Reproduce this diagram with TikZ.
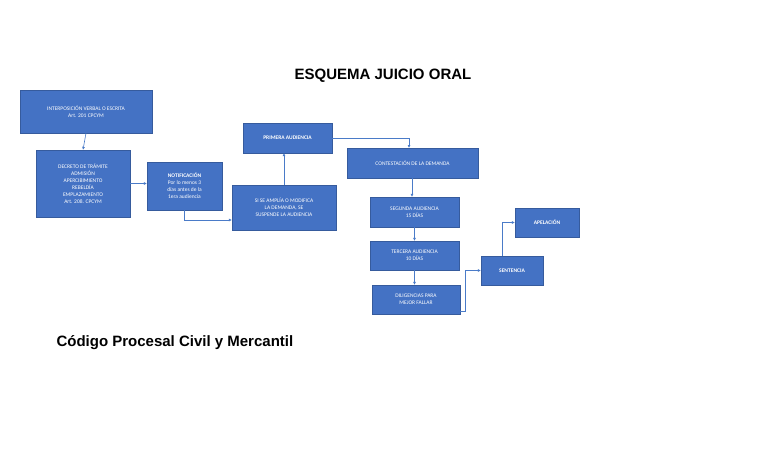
\documentclass[tikz,border=0pt]{standalone}
\usepackage{fontspec}
\setmainfont{Carlito}
\newfontfamily\arialf{Liberation Sans}
\usetikzlibrary{arrows.meta,shadows}
\definecolor{bx}{HTML}{4472C4}
\definecolor{ln}{HTML}{4A7BC8}
\tikzset{
 bbox/.style={fill=bx,draw=bx!80!black,line width=0.3pt,text=white,font=\fontsize{5.5}{7}\selectfont,align=center,inner sep=1pt,drop shadow={shadow xshift=1pt,shadow yshift=-1pt,opacity=0.35}},
 conn/.style={draw=ln,line width=0.6pt,-{Latex[length=3pt,width=3pt]}}
}
\newcommand{\bnode}[6]{\node[bbox,minimum width=#4pt-#2pt,minimum height=#5pt-#3pt] (#1) at ({(#2+#4)/2*1pt},{-(#3+#5)/2*1pt}) {#6};}
\begin{document}
\begin{tikzpicture}[x=1pt,y=1pt]
\useasboundingbox[fill=white] (0,0) rectangle (768,-466);
\node[font=\arialf\bfseries\fontsize{15}{17}\selectfont] (title) at (383,-76) {ESQUEMA JUICIO ORAL};
\node[font=\arialf\bfseries\fontsize{15}{17}\selectfont,anchor=west] (cod) at (53,-343) {Código Procesal Civil y Mercantil};
\bnode{interp}{20}{90}{152}{133}{INTERPOSICIÓN VERBAL O ESCRITA\\Art. 201 CPCYM}
\bnode{decreto}{36}{150}{130}{217}{DECRETO DE TRÁMITE\\ADMISIÓN\\APERCIBIMIENTO\\REBELDÍA\\EMPLAZAMIENTO\\Art. 208. CPCYM}
\bnode{notif}{147}{162}{222}{210}{\textbf{NOTIFICACIÓN}\\Por lo menos 3\\días antes de la\\1era audiencia}
\bnode{sise}{232}{185}{336}{230}{SI SE AMPLÍA O MODIFICA\\LA DEMANDA, SE\\SUSPENDE LA AUDIENCIA}
\bnode{primera}{243}{123}{332}{153}{\textbf{PRIMERA AUDIENCIA}}
\bnode{contest}{347}{148}{478}{178}{CONTESTACIÓN DE LA DEMANDA}
\bnode{segunda}{370}{197}{459}{227}{SEGUNDA AUDIENCIA\\15 DÍAS}
\bnode{tercera}{370}{241}{459}{270}{TERCERA AUDIENCIA\\10 DÍAS}
\bnode{dilig}{372}{285}{460}{314}{DILIGENCIAS PARA\\MEJOR FALLAR}
\bnode{sent}{481}{256}{543}{285}{\textbf{SENTENCIA}}
\bnode{apel}{515}{208}{579}{237}{\textbf{APELACIÓN}}
\draw[conn] (interp.south) -- (decreto.north);
\draw[conn] (decreto.east) -- (notif.west|-decreto.east);
\draw[conn] (notif.south) |- (sise.west|-0,-220);
\draw[conn] (sise.north) -- (primera.south-|sise.north);
\draw[conn] (primera.east) -| (409,-148);
\draw[conn] (contest.south-|412,0) -- (segunda.north-|412,0);
\draw[conn] (segunda.south) -- (tercera.north-|segunda.south);
\draw[conn] (tercera.south) -- (dilig.north-|tercera.south);
\draw[conn] (dilig.east|-0,-311) -- (465,-311) |- (sent.west);
\draw[conn] (sent.north-|502,0) |- (apel.west);
\end{tikzpicture}
\end{document}
